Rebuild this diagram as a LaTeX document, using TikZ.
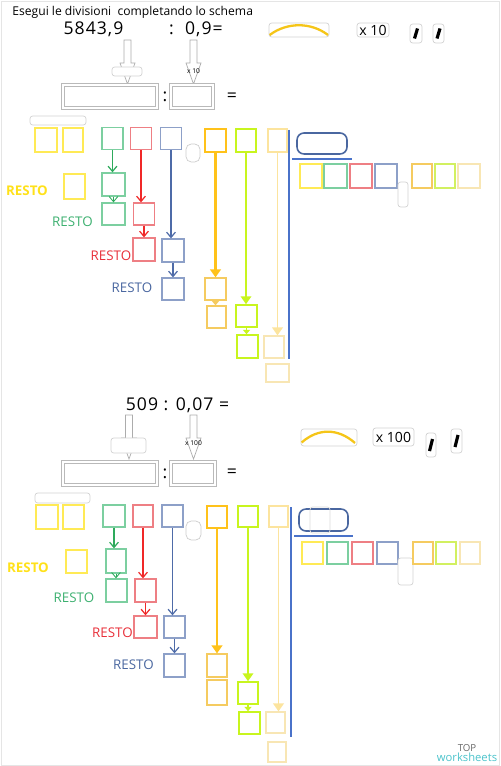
\documentclass[tikz,border=0pt]{standalone}
\usepackage{fontspec}
\setmainfont{Open Sans}
\newfontfamily\numfont[LetterSpace=6]{Open Sans}
\usetikzlibrary{arrows.meta}
\definecolor{ylwtx}{HTML}{FFE11A}
\definecolor{grntx}{HTML}{3DB070}
\definecolor{redtx}{HTML}{E8303A}
\definecolor{blutx}{HTML}{4A67A0}
\definecolor{ylwsq}{HTML}{FFEA55}
\definecolor{grnsq}{HTML}{7CCFA0}
\definecolor{redsq}{HTML}{EE7F84}
\definecolor{blusq}{HTML}{8DA0C8}
\definecolor{grnar}{HTML}{2EAA5C}
\definecolor{redar}{HTML}{F02828}
\definecolor{bluar}{HTML}{4E6BA8}
\definecolor{orgar}{HTML}{FFC21A}
\definecolor{limar}{HTML}{C8F51E}
\definecolor{palar}{HTML}{FCE49E}
\definecolor{orgsq}{HTML}{F5CB60}
\definecolor{limsq}{HTML}{D2F060}
\definecolor{palsq}{HTML}{F8E6B4}
\definecolor{divln}{HTML}{4A72C9}
\definecolor{arcyl}{HTML}{F5C518}
\definecolor{teal}{HTML}{4BC3CB}

\begin{document}
\begin{tikzpicture}[x=0.02cm,y=-0.02cm,>=Latex,
  sz/.style 2 args={minimum width=#1*0.02cm,minimum height=#2*0.02cm},
  sq/.style={draw,inner sep=0pt,line width=0.7pt,sz={21}{22}},
  thk/.style={line width=1.4pt},
  resto/.style={font=\fontsize{7.6}{8}\selectfont},
  tarr/.style={-{Straight Barb[length=3pt,width=5pt]},line width=0.7pt},
  farr/.style={-{Triangle[length=4.5pt,width=6pt]},line width=1.3pt},
  sarr/.style={-{Triangle[length=2.5pt,width=4pt]},line width=0.8pt},
  wbox/.style={draw=gray!35,rounded corners=1.5pt,fill=white,inner sep=0pt},
  dbox/.style={draw=gray!55,double=white,double distance=1pt,inner sep=0pt},
  big/.style={font=\numfont\fontsize{10}{11}\selectfont},
  slash/.style={black,line width=1.8pt}]
  \useasboundingbox (0,0) rectangle (500,766);
  \draw[gray!20] (1,1) rectangle (499,765);

  \node[font=\fontsize{6.9}{8}\selectfont,anchor=west,inner sep=0pt] (title) at (12,12)
    {Esegui le divisioni\ \ completando lo schema};

  % prima divisione
  \node[big] (n1) at (93.5,29) {5843,9};
  \node[big] (d1) at (196,29) {:\ \ 0,9=};
  \foreach \cx/\ty in {127.5/40,193.5/40,129/415,193.5/415}
    \draw[gray!65,fill=white] (\cx-3.5,\ty) -- (\cx-3.5,\ty+23) -- (\cx-7.5,\ty+23)
      -- (\cx,\ty+44) -- (\cx+7.5,\ty+23) -- (\cx+3.5,\ty+23) -- (\cx+3.5,\ty) -- cycle;
  \node[wbox,sz={30}{9}] (c1) at (127,71.5) {};
  \node[font=\fontsize{3.8}{4}\selectfont] (t1) at (193.5,71) {x 10};
  \node[dbox,sz={94}{23}] (e1) at (110,96.5) {};
  \node (k1) at (165,97) {:};
  \node[dbox,sz={42}{23}] (f1) at (192,96.5) {};
  \node (q1) at (232,97) {=};

  \node[wbox,sz={60}{14}] (arc1) at (299,30) {};
  \draw[arcyl,line width=1.3pt] (arc1.west) ++(1,5) .. controls (287,22) and (311,22) .. (328,35);
  \node[wbox,sz={32}{14},font=\fontsize{8}{9}\selectfont] (x1) at (373,30) {x 10};
  \node[wbox,sz={12}{19}] (s1) at (416,33.5) {};
  \draw[slash] (s1) ++(-1.5,5) -- ++(3,-10);
  \node[wbox,sz={11}{19}] (s2) at (438.5,33.5) {};
  \draw[slash] (s2) ++(-1.5,5) -- ++(3,-10);

  \node[wbox,sz={56}{9}] (h1) at (58,120.5) {};
  \node[sq,draw=ylwsq,sz={22}{24}] (ya1) at (46,140) {};
  \node[sq,draw=ylwsq,sz={20}{24}] (yb1) at (73,140) {};
  \node[sq,draw=grnsq] (g1) at (112.5,138.5) {};
  \node[sq,draw=redsq] (r1) at (141,138.5) {};
  \node[sq,draw=blusq] (b1) at (171,138.5) {};
  \node[draw=gray!40,rounded corners=3pt,inner sep=0pt,sz={14}{18}] (v1) at (193,153) {};
  \node[sq,thk,draw=orgar,sz={21}{23}] (o1) at (215.5,140.5) {};
  \node[sq,line width=1.2pt,draw=limar,sz={20}{23}] (l1) at (246,140.5) {};
  \node[sq,line width=0.9pt,draw=palar,sz={19}{23}] (p1) at (277.5,140.5) {};

  \node[resto,font=\bfseries\fontsize{7.6}{8}\selectfont,text=ylwtx] (ry1) at (27,191) {RESTO};
  \node[sq,draw=ylwsq,sz={21}{25}] (yr1) at (74.5,186.5) {};
  \node[sq,draw=grnsq,sz={23}{23}] (g2) at (113.5,184.5) {};
  \node[sq,draw=grnsq,sz={23}{22}] (g3) at (113.5,214) {};
  \node[resto,text=grntx] (rg1) at (72.5,222) {RESTO};
  \node[sq,draw=redsq] (r2) at (144,214) {};
  \node[sq,draw=redsq,sz={22}{23}] (r3) at (144,249.5) {};
  \node[resto,text=redtx] (rr1) at (111,256) {RESTO};
  \node[sq,draw=blusq,sz={22}{23}] (b2) at (173,250.5) {};
  \node[sq,draw=blusq,sz={22}{22}] (b3) at (173,289) {};
  \node[resto,text=blutx] (rb1) at (132,288) {RESTO};
  \node[sq,draw=orgsq] (o2) at (215.5,289) {};
  \node[sq,draw=orgsq,sz={19}{22}] (o3) at (216.5,317) {};
  \node[sq,line width=0.9pt,draw=limar,sz={21}{22}] (l2) at (246.5,316) {};
  \node[sq,line width=0.9pt,draw=limar,sz={21}{23}] (l3) at (247.5,346.5) {};
  \node[sq,draw=palsq,sz={20}{22}] (p2) at (274,347) {};
  \node[sq,draw=palsq,sz={23}{18}] (p3) at (277.5,373) {};

  \draw[tarr,grnar] (g1.south) -- (g1.south |- g2.north);
  \draw[tarr,grnar,line width=0.5pt] (g2.south) -- (g2.south |- g3.north);
  \draw[tarr,redar] (r1.south) -- (r1.south |- r2.north);
  \draw[tarr,redar] (r2.south) -- (r2.south |- r3.north);
  \draw[tarr,bluar] (b1.south) -- (b1.south |- b2.north);
  \draw[tarr,bluar] (b2.south) -- (b2.south |- b3.north);
  \draw[farr,orgar] (o1.south) -- (o1.south |- o2.north);
  \draw[sarr,orgsq] (o2.south) -- (o2.south |- o3.north);
  \draw[farr,limar,line width=1pt] (l1.south) -- (l1.south |- l2.north);
  \draw[sarr,limar] (l2.south) -- (l2.south |- l3.north);
  \draw[farr,palar,line width=1pt] (p1.south) -- (p1.south |- p2.north);

  \draw[divln,line width=0.9pt] (289,130) -- (289,359);
  \draw[divln,line width=0.9pt] (292,159) -- (352,159);
  \node[draw=blutx,line width=0.9pt,rounded corners=4pt,sz={50}{21}] (qt1) at (322,143.5) {};
  \node[sq,draw=ylwsq,sz={22}{24}] (z1) at (311,176) {};
  \node[sq,draw=grnsq,sz={23}{24}] (z2) at (335.5,176) {};
  \node[sq,draw=redsq,sz={22}{24}] (z3) at (361,176) {};
  \node[sq,draw=blusq,sz={22}{24}] (z4) at (386,176) {};
  \node[wbox,sz={10}{25}] (zw) at (403,194.5) {};
  \node[sq,draw=orgsq,sz={20}{24}] (z5) at (422,176) {};
  \node[sq,draw=limsq,sz={20}{24}] (z6) at (445,176) {};
  \node[sq,draw=palsq,sz={22}{24}] (z7) at (469,176) {};

  % seconda divisione
  \node[big] (n2) at (177.5,405) {509 : 0,07 =};
  \node[wbox,sz={35}{15}] (c2) at (128.5,445.5) {};
  \node[font=\fontsize{3.8}{4}\selectfont] (t2) at (193.5,443) {x 100};
  \node[dbox,sz={94}{23}] (e2) at (110,473.5) {};
  \node (k2) at (165,474) {:};
  \node[dbox,sz={44}{23}] (f2) at (193,473.5) {};
  \node (q2) at (232,473) {=};

  \node[wbox,sz={56}{17}] (arc2) at (329,437.5) {};
  \draw[arcyl,line width=1.3pt] (arc2.west) ++(1,5) .. controls (318,428) and (338,428) .. (355,443);
  \node[wbox,sz={41}{18},font=\fontsize{8}{9}\selectfont] (x2) at (393.5,437) {x 100};
  \node[wbox,sz={10}{24}] (s3) at (431,445) {};
  \draw[slash] (s3) ++(-1.5,6) -- ++(3,-12);
  \node[wbox,sz={11}{24}] (s4) at (456.5,441) {};
  \draw[slash] (s4) ++(-1.5,6) -- ++(3,-12);

  \node[wbox,sz={55}{10}] (h2) at (62.5,498) {};
  \node[sq,draw=ylwsq,sz={22}{24}] (ya2) at (47,517) {};
  \node[sq,draw=ylwsq,sz={21}{24}] (yb2) at (73.5,517) {};
  \node[sq,draw=grnsq,sz={22}{22}] (g4) at (114,516) {};
  \node[sq,draw=redsq,sz={20}{22}] (r4) at (143,516) {};
  \node[sq,draw=blusq,sz={21}{22}] (b4) at (172.5,516) {};
  \node[draw=gray!40,rounded corners=3pt,inner sep=0pt,sz={15}{19}] (v2) at (193.5,530.5) {};
  \node[sq,thk,draw=orgar,sz={20}{22}] (o4) at (217,517) {};
  \node[sq,line width=1.2pt,draw=limar,sz={20}{21}] (l4) at (248,516.5) {};
  \node[sq,line width=0.9pt,draw=palar,sz={19}{21}] (p4) at (278.5,516.5) {};

  \node[resto,font=\bfseries\fontsize{7.6}{8}\selectfont,text=ylwtx] (ry2) at (28,568) {RESTO};
  \node[sq,draw=ylwsq,sz={21}{23}] (yr2) at (76.5,561.5) {};
  \node[sq,draw=grnsq,sz={20}{24}] (g5) at (116,561) {};
  \node[sq,draw=grnsq,sz={21}{23}] (g6) at (116.5,590.5) {};
  \node[resto,text=grntx] (rg2) at (74,598) {RESTO};
  \node[sq,draw=redsq,sz={21}{23}] (r5) at (145.5,590.5) {};
  \node[sq,draw=redsq,sz={23}{22}] (r6) at (145.5,627) {};
  \node[resto,text=redtx] (rr2) at (112.5,633) {RESTO};
  \node[sq,draw=blusq,sz={21}{22}] (b5) at (174.5,627) {};
  \node[sq,draw=blusq,sz={21}{23}] (b6) at (174.5,665.5) {};
  \node[resto,text=blutx] (rb2) at (133.5,665) {RESTO};
  \node[sq,draw=orgsq,sz={20}{23}] (o5) at (217,665.5) {};
  \node[sq,draw=orgsq,sz={20}{25}] (o6) at (217,692.5) {};
  \node[sq,line width=0.9pt,draw=limar,sz={20}{22}] (l5) at (248,693) {};
  \node[sq,line width=0.9pt,draw=limar,sz={21}{22}] (l6) at (249.5,723) {};
  \node[sq,draw=palsq,sz={19}{21}] (p5) at (275.5,722.5) {};
  \node[sq,draw=palsq,sz={18}{20}] (p6) at (277,752) {};

  \draw[tarr,grnar] (g4.south) -- (g4.south |- g5.north);
  \draw[tarr,grnar,line width=0.5pt] (g5.south) -- (g5.south |- g6.north);
  \draw[tarr,redar] (r4.south) -- (r4.south |- r5.north);
  \draw[tarr,redar] (r5.south) -- (r5.south |- r6.north);
  \draw[tarr,bluar] (b4.south) -- (b4.south |- b5.north);
  \draw[tarr,bluar] (b5.south) -- (b5.south |- b6.north);
  \draw[farr,orgar] (o4.south) -- (o4.south |- o5.north);
  \draw[farr,limar,line width=1pt] (l4.south) -- (l4.south |- l5.north);
  \draw[sarr,limar] (l5.south) -- (l5.south |- l6.north);
  \draw[farr,palar,line width=1pt] (p4.south) -- (p4.south |- p5.north);

  \draw[divln,line width=0.9pt] (291,507) -- (291,737);
  \draw[divln,line width=0.9pt] (294,536) -- (353,536);
  \node[draw=blutx,line width=0.9pt,rounded corners=4pt,sz={49}{22}] (qt2) at (323.5,520) {};
  \node[draw=gray!30,rounded corners=1.5pt,inner sep=0pt,sz={20}{26}] (qg2) at (320,520) {};
  \node[sq,draw=ylwsq,sz={21}{22}] (z8) at (312.5,553) {};
  \node[sq,draw=grnsq,sz={21}{22}] (z9) at (337.5,553) {};
  \node[sq,draw=redsq,sz={21}{22}] (z10) at (362.5,553) {};
  \node[sq,draw=blusq,sz={21}{22}] (z11) at (387.5,553) {};
  \node[wbox,sz={15}{27}] (zw2) at (405.5,571.5) {};
  \node[sq,draw=orgsq,sz={20}{22}] (z12) at (423,553) {};
  \node[sq,draw=limsq,sz={20}{22}] (z13) at (446,553) {};
  \node[sq,draw=palsq,sz={20}{22}] (z14) at (470,553) {};

  \node[font=\fontsize{5.5}{6}\selectfont,text=gray!80!black] (tp) at (467,748) {TOP};
  \node[font=\fontsize{6.4}{7}\selectfont,text=teal] (ws) at (467,757) {worksheets};
\end{tikzpicture}
\end{document}
